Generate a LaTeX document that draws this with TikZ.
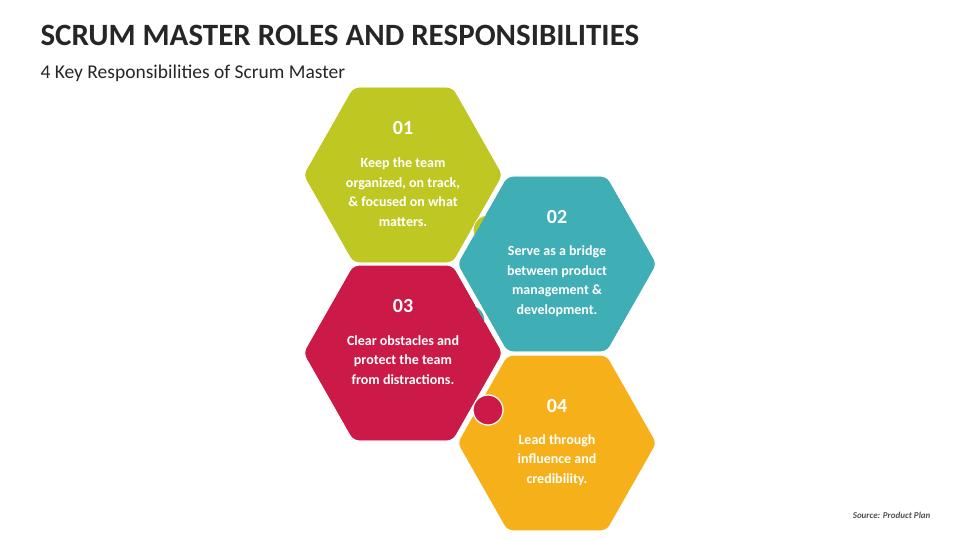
\documentclass[tikz,border=0pt]{standalone}
\usepackage{fontspec}
\setmainfont{Carlito}
\definecolor{cA}{HTML}{BFC822}
\definecolor{cB}{HTML}{40AEB5}
\definecolor{cC}{HTML}{CB1A48}
\definecolor{cD}{HTML}{F6B019}
\definecolor{tt}{HTML}{262626}
\begin{document}
\begin{tikzpicture}[x=1pt,y=-1pt,
  hexs/.style={fill=#1,draw=white,line width=1.2pt,rounded corners=6pt},
  tab/.style={fill=#1,draw=white,line width=1.2pt},
  num/.style={text=white,font=\bfseries\fontsize{20}{22}\selectfont},
  body/.style={text=white,font=\bfseries\fontsize{14}{19.5}\selectfont,align=center}]
\useasboundingbox (0,0) rectangle (960,540);
\newcommand{\hexat}[3]{\path[hexs=#3] (#1-100,#2) -- (#1-50,#2-88) -- (#1+50,#2-88) -- (#1+100,#2) -- (#1+50,#2+88) -- (#1-50,#2+88) -- cycle;}
\newcommand{\hexfill}[3]{\fill[#3,rounded corners=6pt] (#1-99,#2) -- (#1-49.5,#2-87) -- (#1+49.5,#2-87) -- (#1+99,#2) -- (#1+49.5,#2+87) -- (#1-49.5,#2+87) -- cycle;}
\node[anchor=west,text=tt,font=\bfseries\fontsize{31}{34}\selectfont] (title) at (37,35) {SCRUM MASTER ROLES AND RESPONSIBILITIES};
\node[anchor=west,text=tt,font=\fontsize{19.5}{22}\selectfont] (sub) at (37,73) {4 Key Responsibilities of Scrum Master};
\hexat{403}{175}{cA}
\hexat{557}{264}{cB}
\hexat{403}{353}{cC}
\hexat{557}{443}{cD}
\path[tab=cA] (488,230) circle (15);
\hexfill{403}{175}{cA}
\path[tab=cB] (470,320) circle (15);
\hexfill{557}{264}{cB}
\path[tab=cC] (488,410) circle (15);
\hexfill{403}{353}{cC}
\node[num] (n1) at (403,128) {01};
\node[body] (t1) at (403,192) {Keep the team\\organized, on track,\\\& focused on what\\matters.};
\node[num] (n2) at (557,217) {02};
\node[body] (t2) at (557,281) {Serve as a bridge\\between product\\management \&\\development.};
\node[num] (n3) at (403,306) {03};
\node[body] (t3) at (403,360) {Clear obstacles and\\protect the team\\from distractions.};
\node[num] (n4) at (557,406) {04};
\node[body] (t4) at (557,460) {Lead through\\influence and\\credibility.};
\node[anchor=east,text=tt!80,font=\bfseries\itshape\fontsize{9}{10}\selectfont] (src) at (934,515) {Source: Product Plan};
\end{tikzpicture}
\end{document}
